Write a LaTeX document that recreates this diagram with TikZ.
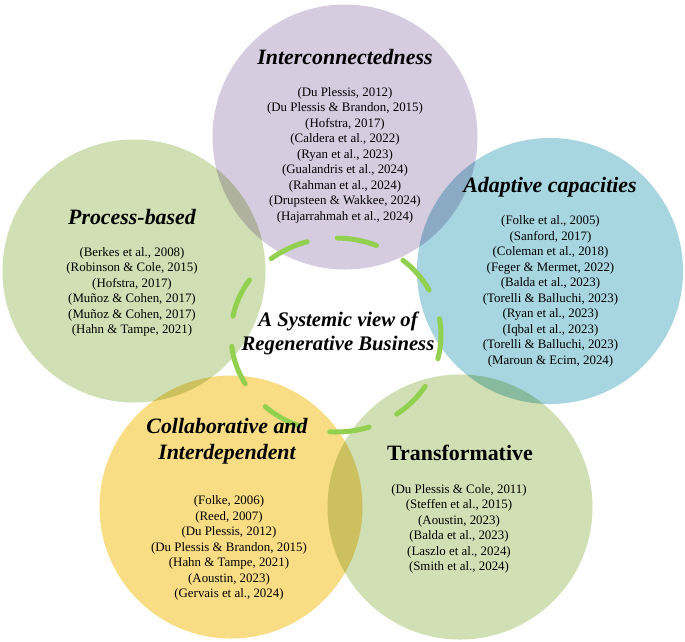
\documentclass[tikz,border=0pt]{standalone}
\usepackage{fontspec}
\setmainfont{Liberation Serif}
\begin{document}
\begin{tikzpicture}[x=1pt,y=-1pt,
  bubble/.style={blend mode=multiply},
  title/.style={font=\fontsize{21.9}{26}\selectfont\bfseries\itshape, align=center, inner sep=0pt},
  refs/.style={font=\fontsize{12.9}{15.5}\selectfont, align=center, inner sep=0pt},
  ring/.style={draw=ringgreen, line width=5pt, line cap=round, dash pattern=on 40pt off 30.5pt, dash phase=16pt}]
\definecolor{cpurple}{RGB}{213,204,224}
\definecolor{cgreen}{RGB}{209,223,181}
\definecolor{cblue}{RGB}{167,213,224}
\definecolor{cyellow}{RGB}{249,221,133}
\definecolor{ringgreen}{RGB}{146,208,80}
\useasboundingbox (0,0) rectangle (685,641);
\fill[white] (0,0) rectangle (685,641);
\begin{scope}[bubble]
\fill[cpurple] (345,137) circle (132.5);
\fill[cgreen] (134,271) circle (131.5);
\fill[cblue] (550,271) circle (133);
\fill[cgreen] (460,507) circle (132.5);
\fill[cyellow] (231,507) circle (131.5);
\end{scope}
\draw[ring] (336,335) ellipse (105 and 97);
\node[title] (t1) at (345,57) {Interconnectedness};
\node[refs] (r1) at (345,155) {(Du Plessis, 2012)\\(Du Plessis \& Brandon, 2015)\\(Hofstra, 2017)\\(Caldera et al., 2022)\\(Ryan et al., 2023)\\(Gualandris et al., 2024)\\(Rahman et al., 2024)\\(Drupsteen \& Wakkee, 2024)\\(Hajarrahmah et al., 2024)};
\node[title] (t2) at (132,217) {Process-based};
\node[refs] (r2) at (132,292) {(Berkes et al., 2008)\\(Robinson \& Cole, 2015)\\(Hofstra, 2017)\\(Muñoz \& Cohen, 2017)\\(Muñoz \& Cohen, 2017)\\(Hahn \& Tampe, 2021)};
\node[title] (t3) at (550,187) {Adaptive capacities};
\node[refs] (r3) at (550.5,291.5) {(Folke et al., 2005)\\(Sanford, 2017)\\(Coleman et al., 2018)\\(Feger \& Mermet, 2022)\\(Balda et al., 2023)\\(Torelli \& Balluchi, 2023)\\(Ryan et al., 2023)\\(Iqbal et al., 2023)\\(Torelli \& Balluchi, 2023)\\(Maroun \& Ecim, 2024)};
\node[title] (t4) at (227,441) {Collaborative and\\Interdependent};
\node[refs] (r4) at (229,548) {(Folke, 2006)\\(Reed, 2007)\\(Du Plessis, 2012)\\(Du Plessis \& Brandon, 2015)\\(Hahn \& Tampe, 2021)\\(Aoustin, 2023)\\(Gervais et al., 2024)};
\node[title, font=\fontsize{21.9}{26}\selectfont\bfseries] (t5) at (460,453) {Transformative};
\node[refs] (r5) at (459,529) {(Du Plessis \& Cole, 2011)\\(Steffen et al., 2015)\\(Aoustin, 2023)\\(Balda et al., 2023)\\(Laszlo et al., 2024)\\(Smith et al., 2024)};
\node[font=\fontsize{20.7}{24}\selectfont\bfseries\itshape, align=center, inner sep=0pt] (c) at (338,333) {A Systemic view of\\Regenerative Business};
\end{tikzpicture}
\end{document}
